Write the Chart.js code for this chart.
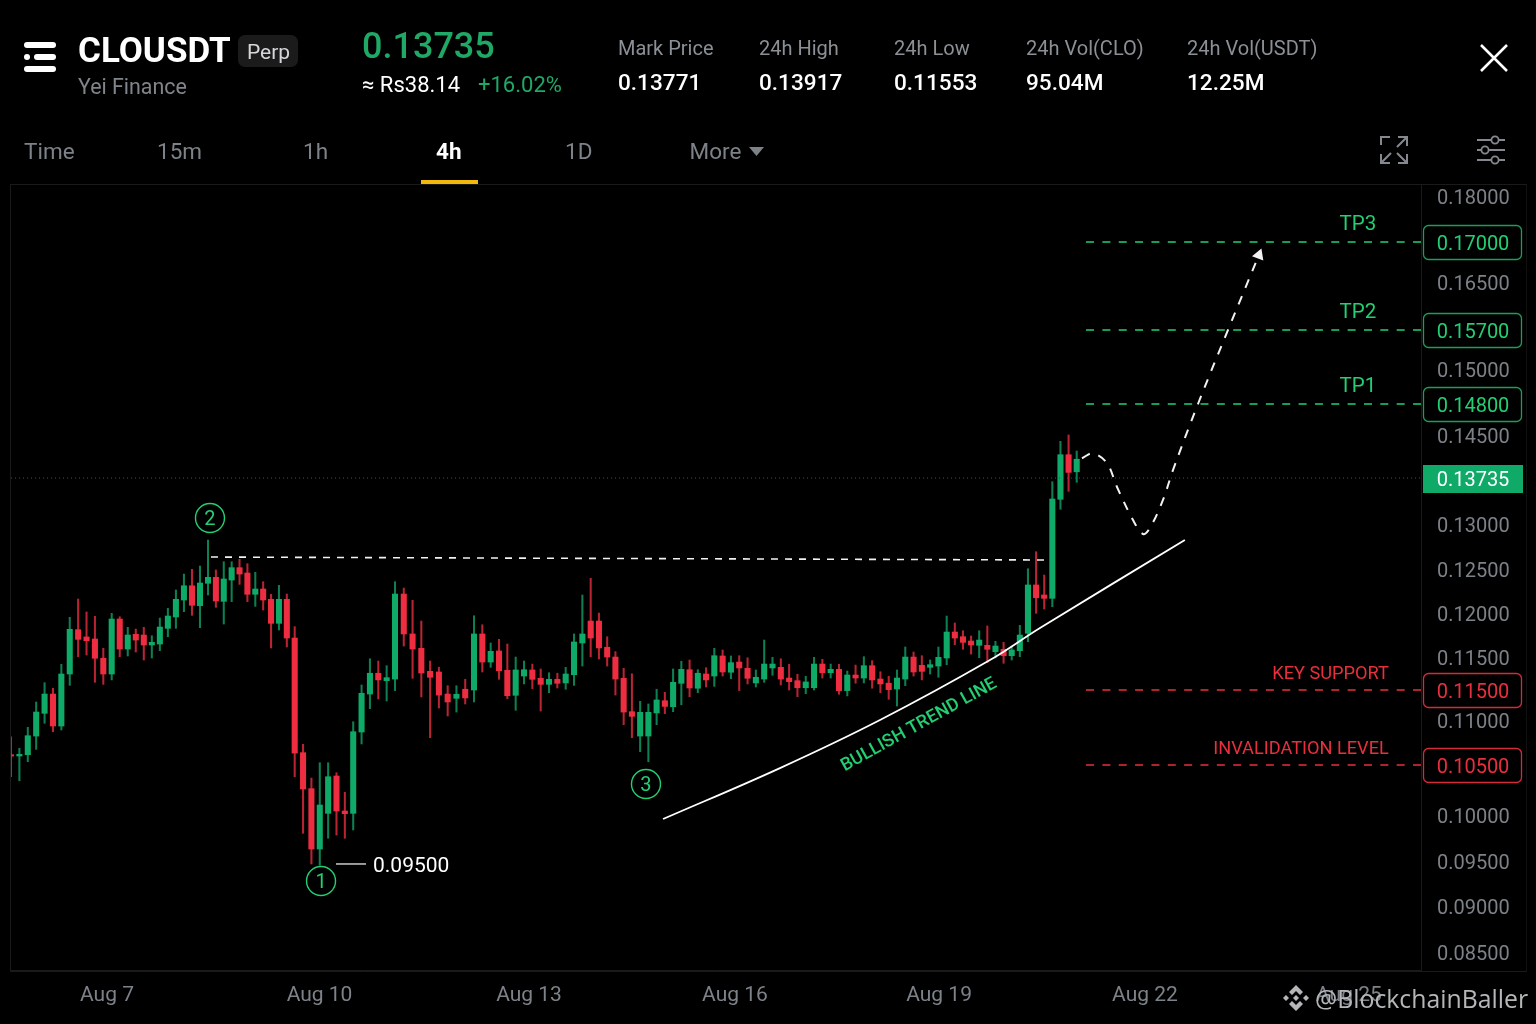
<!DOCTYPE html>
<html>
<head>
<meta charset="utf-8">
<title>CLOUSDT Perp</title>
<script src="https://cdn.jsdelivr.net/npm/chart.js@4/dist/chart.umd.min.js"></script>
<style>
html, body { margin: 0; padding: 0; background: #000; }
#page { position: relative; width: 1536px; height: 1024px; overflow: hidden; background: #000; font-family: Roboto, sans-serif; color: #fff; }
#page div.t, #page span.t { position: absolute; white-space: nowrap; line-height: 1; }
#frame { position: absolute; left: 10px; top: 184px; width: 1515px; height: 786px; border: 1px solid #1a1a1a; border-right-color: #111; }
#chartBox { position: absolute; left: 0; top: 0; width: 1536px; height: 1024px; }
.gray { color: #80858b; }
.stat { font-size: 20px; color: #8b9096; }
.val { font-size: 22.6px; font-weight: 500; color: #fff; }
.tab { font-size: 22.5px; color: #7d8288; }
svg { position: absolute; }
</style>
</head>
<body>
<div id="page">
  <div id="frame"></div>
  <div id="chartBox"><canvas id="priceChart"></canvas></div>

  <svg style="left:22px;top:40px" width="36" height="34" viewBox="0 0 36 34">
    <rect x="2" y="2" width="32" height="6" rx="3" fill="#fff"/>
    <rect x="2" y="14" width="6" height="6" rx="3" fill="#fff"/>
    <rect x="12" y="14" width="22" height="6" rx="3" fill="#fff"/>
    <rect x="2" y="26" width="32" height="6" rx="3" fill="#fff"/>
  </svg>
  <div class="t" style="left:78px;top:33px;font-size:35px;font-weight:700">CLOUSDT</div>
  <div style="position:absolute;left:238px;top:35px;width:60px;height:32px;background:#1b1b1b;border-radius:7px"></div>
  <div class="t" style="left:247px;top:42px;font-size:21px;color:#d5d7da">Perp</div>
  <div class="t gray" style="left:78px;top:76px;font-size:21.4px">Yei Finance</div>

  <div class="t" style="left:362px;top:28px;font-size:36px;font-weight:500;color:#1fa866">0.13735</div>
  <div class="t" style="left:362px;top:74px;font-size:22px">≈ Rs38.14</div>
  <div class="t" style="left:478px;top:74px;font-size:22px;color:#1fa866">+16.02%</div>

  <div class="t stat" style="left:618px;top:38px">Mark Price</div>
  <div class="t stat" style="left:759px;top:38px">24h High</div>
  <div class="t stat" style="left:894px;top:38px">24h Low</div>
  <div class="t stat" style="left:1026px;top:38px">24h Vol(CLO)</div>
  <div class="t stat" style="left:1187px;top:38px">24h Vol(USDT)</div>
  <div class="t val" style="left:618px;top:72px">0.13771</div>
  <div class="t val" style="left:759px;top:72px">0.13917</div>
  <div class="t val" style="left:894px;top:72px">0.11553</div>
  <div class="t val" style="left:1026px;top:72px">95.04M</div>
  <div class="t val" style="left:1187px;top:72px">12.25M</div>

  <svg style="left:1478px;top:42px" width="32" height="32" viewBox="0 0 32 32">
    <path d="M3 3 L29 29 M29 3 L3 29" stroke="#fff" stroke-width="2.6" fill="none"/>
  </svg>

  <div class="t tab" style="left:24px;top:140px">Time</div>
  <div class="t tab" style="left:157px;top:140px">15m</div>
  <div class="t tab" style="left:303px;top:140px">1h</div>
  <div class="t tab" style="left:436px;top:140px;color:#fff;font-weight:700">4h</div>
  <div class="t tab" style="left:565px;top:140px">1D</div>
  <div class="t tab" style="left:689.5px;top:140px">More</div>
  <svg style="left:749px;top:147px" width="15" height="9" viewBox="0 0 15 9"><path d="M0 0 H15 L7.5 9 Z" fill="#7d8288"/></svg>
  <div style="position:absolute;left:421px;top:180px;width:57px;height:4px;background:#f0b90b"></div>

  <svg style="left:1380px;top:136px" width="28" height="28" viewBox="0 0 28 28" fill="none" stroke="#85898f" stroke-width="2">
    <path d="M1 9 V1 H10 M27 1 L17 11 M18 1 H27 V10 M1 27 L11 17 M1 18 V27 H10 M27 18 V27 H18 M17 17 L27 27"/>
  </svg>
  <svg style="left:1476px;top:135px" width="30" height="30" viewBox="0 0 30 30" fill="none" stroke="#85898f" stroke-width="1.8">
    <path d="M1 5 H15 M23 5 H29 M1 15 H5 M13 15 H29 M1 25 H15 M23 25 H29"/>
    <circle cx="19" cy="5" r="3.6"/><circle cx="9" cy="15" r="3.6"/><circle cx="19" cy="25" r="3.6"/>
  </svg>

  <svg style="left:1282px;top:984px" width="28" height="28" viewBox="0 0 28 28" fill="#b4b6b9">
    <path d="M14 1 L21 8 L18 11 L14 7 L10 11 L7 8 Z"/>
    <path d="M14 27 L21 20 L18 17 L14 21 L10 17 L7 20 Z"/>
    <path d="M14 11 L17 14 L14 17 L11 14 Z"/>
    <path d="M4 11 L7 14 L4 17 L1 14 Z"/>
    <path d="M24 11 L27 14 L24 17 L21 14 Z"/>
  </svg>
  <div class="t" style="left:1315px;top:986px;font-size:24.8px;color:#b4b6b9;font-family:'Open Sans',sans-serif">@BlockchainBaller</div>
</div>

<script>
const opens = [0.10617,0.10602,0.10617,0.10829,0.11061,0.11214,0.10943,0.11373,0.11822,0.11739,
  0.11716,0.11498,0.11373,0.11943,0.11602,0.11769,0.11761,0.11648,0.11659,0.11837,
  0.11966,0.12159,0.12321,0.12094,0.12349,0.12417,0.12144,0.12386,0.12526,0.12466,
  0.12224,0.12284,0.12167,0.11894,0.12167,0.11727,0.1064,0.10268,0.09641,0.10026,
  0.10392,0.10049,0.10026,0.10875,0.11214,0.11379,0.1132,0.11333,0.12227,0.11773,
  0.1161,0.11394,0.11389,0.11214,0.1118,0.11252,0.11246,0.11773,0.11468,0.1158,
  0.11402,0.11204,0.11357,0.11405,0.11339,0.11291,0.11331,0.11302,0.11367,0.1167,
  0.1192,0.1192,0.11622,0.11511,0.11339,0.11074,0.10829,0.10829,0.11064,0.11161,
  0.11113,0.11299,0.11407,0.1126,0.11373,0.11357,0.11523,0.11387,0.11468,0.11418,
  0.11302,0.11333,0.11421,0.11426,0.11341,0.1132,0.11264,0.11264,0.11452,0.11383,
  0.1141,0.11241,0.11365,0.11341,0.11439,0.11333,0.113,0.11254,0.11333,0.11511,
  0.11442,0.11426,0.11436,0.115,0.11795,0.11742,0.11693,0.11644,0.11644,0.11572,
  0.11599,0.11526,0.11583,0.11781,0.1233,0.12216,0.12178,0.13402,0.14159,0.13848];
const closes = [0.10602,0.10622,0.10833,0.11071,0.11214,0.10943,0.11373,0.11826,0.11712,0.11697,
  0.11498,0.11373,0.11943,0.11602,0.11761,0.11704,0.11648,0.11678,0.11852,0.11977,
  0.12167,0.12321,0.12099,0.12352,0.12417,0.12148,0.12398,0.12526,0.12454,0.12224,
  0.12284,0.12159,0.11894,0.12167,0.11727,0.10636,0.10265,0.09641,0.10108,0.10385,
  0.10049,0.10023,0.10878,0.1122,0.11379,0.11326,0.11344,0.12227,0.11773,0.11602,
  0.11381,0.11347,0.11206,0.11151,0.11212,0.11183,0.11773,0.11468,0.11576,0.11399,
  0.11201,0.11405,0.11407,0.11331,0.11291,0.11331,0.11299,0.11373,0.11682,0.11773,
  0.11727,0.11614,0.11511,0.11333,0.11071,0.11037,0.11069,0.11069,0.11167,0.11116,
  0.11307,0.1141,0.11262,0.11379,0.11326,0.11526,0.11389,0.11463,0.11421,0.11339,
  0.11347,0.11452,0.11452,0.11333,0.11312,0.11264,0.1131,0.11452,0.11383,0.1141,
  0.11241,0.11365,0.11341,0.11439,0.11326,0.11294,0.11249,0.11341,0.11511,0.11389,
  0.11394,0.11447,0.11508,0.11795,0.11727,0.11678,0.11648,0.11704,0.11599,0.11636,
  0.11526,0.11591,0.11761,0.1233,0.12185,0.12178,0.13407,0.14159,0.13837,0.14077];
const highs = [0.10821,0.1069,0.10928,0.11151,0.11304,0.1126,0.1145,0.11962,0.1217,0.12023,
  0.11974,0.1161,0.12008,0.11969,0.11849,0.11829,0.11849,0.11753,0.11954,0.12065,
  0.12273,0.12454,0.12508,0.12544,0.12833,0.125,0.12592,0.12592,0.12619,0.1257,
  0.12474,0.12367,0.12224,0.12326,0.12227,0.11856,0.10735,0.10372,0.10526,0.10526,
  0.10424,0.10232,0.10992,0.11286,0.11494,0.11476,0.11439,0.12367,0.12295,0.12156,
  0.1192,0.11476,0.11427,0.1128,0.1128,0.11331,0.1198,0.11878,0.1167,0.11712,
  0.11659,0.11511,0.11476,0.11452,0.11413,0.11383,0.11379,0.11426,0.11773,0.12216,
  0.12406,0.12011,0.11742,0.11572,0.11418,0.11375,0.11156,0.11135,0.11252,0.11228,
  0.11413,0.11474,0.11484,0.11407,0.11423,0.1161,0.11591,0.11523,0.11526,0.11503,
  0.11405,0.11704,0.11508,0.11494,0.1145,0.11371,0.11355,0.11508,0.1149,0.11452,
  0.1145,0.11397,0.11444,0.11515,0.11479,0.11391,0.11355,0.11405,0.11625,0.11568,
  0.11526,0.11484,0.11625,0.11977,0.11898,0.1181,0.1175,0.1181,0.11864,0.1169,
  0.11678,0.11636,0.11871,0.12514,0.12703,0.12443,0.13677,0.14403,0.1451,0.14226];
const lows = [0.10385,0.10346,0.10537,0.10678,0.10974,0.10878,0.10898,0.11283,0.11515,0.11534,
  0.11307,0.11291,0.11326,0.11515,0.11523,0.11568,0.11484,0.115,0.11583,0.11742,
  0.11837,0.12026,0.11985,0.11844,0.12216,0.12076,0.11886,0.1214,0.12337,0.1214,
  0.12087,0.12045,0.11614,0.11818,0.11625,0.10385,0.09812,0.09478,0.09463,0.09758,
  0.09793,0.09758,0.09848,0.10739,0.11098,0.11175,0.11159,0.11241,0.11636,0.11339,
  0.11191,0.1081,0.11103,0.1104,0.11071,0.11135,0.11151,0.11389,0.11426,0.11331,
  0.11177,0.11085,0.11294,0.11257,0.11079,0.11225,0.11262,0.11252,0.11283,0.11436,
  0.11515,0.11492,0.11436,0.11206,0.10958,0.1081,0.10651,0.10537,0.10958,0.11058,
  0.11074,0.11129,0.11193,0.11225,0.1127,0.11275,0.11357,0.11336,0.11241,0.11294,
  0.1127,0.11307,0.11363,0.11286,0.11246,0.11193,0.11217,0.11246,0.11341,0.11341,
  0.11212,0.11199,0.113,0.11302,0.1126,0.11225,0.11172,0.11119,0.1128,0.11357,
  0.11326,0.11373,0.11347,0.11447,0.11651,0.11599,0.11545,0.11503,0.11463,0.115,
  0.11458,0.11484,0.11515,0.11685,0.12008,0.12057,0.12083,0.13246,0.13527,0.13668];

const priceTicks = [0.085,0.09,0.095,0.1,0.11,0.115,0.12,0.125,0.13,0.145,0.15,0.165,0.18];
const dateTicks = [11.44,37.97,62.6,87.49,112.08,137.27,161.97];
const dateLabels = ['Aug 7','Aug 10','Aug 13','Aug 16','Aug 19','Aug 22','Aug 25'];

const levelPrices = [0.17,0.157,0.148,0.11246,0.105];
const levelTags = ['0.17000','0.15700','0.14800','0.11500','0.10500'];
const levelNames = ['TP3','TP2','TP1','KEY SUPPORT','INVALIDATION LEVEL'];
const lastPrice = 0.13735;

const resistanceSlots = [24.38,125.7];
const resistancePrices = [0.12644,0.12611];
const trendSlots = [78.78,92.9,104.95,118.33,124.48,142.1];
const trendPrices = [0.09967,0.1047,0.11008,0.11484,0.11841,0.12833];
const pathSlots = [129.64,130.97,132.67,133.88,135.82,137.03,137.87,139.45,140.66,143.69,147.32,151.07];
const pathPrices = [0.14095,0.14185,0.14005,0.13594,0.13078,0.129,0.12967,0.13391,0.13879,0.148,0.157,0.16841];
const markerSlots = [38.15,24.25,76.71];
const markerPrices = [0.09289,0.1311,0.10314];
const markerLabels = ['1','2','3'];

// the printed price axis is not evenly spaced, so the scale follows it piece by piece
const yKnotValues = [0.0831,0.085,0.09,0.095,0.1,0.105,0.11,0.115,0.12,0.125,0.13,0.13735,0.145,0.148,0.15,0.157,0.165,0.17,0.18,0.1827];
const yKnotPixels = [970,953,907,862,816,765,721,658,614,570,525,478,436,404,370,330,283,242,197,185];
const xKnotValues = [0,12,24,35,47,56,70,85,100,113,129,170.7];
const xKnotPixels = [11,111.7,208,294.7,395,474,590.7,714.3,839,946.7,1076.7,1421];

const GREEN = '#0fa968';
const GREEN_WICK = '#0c8052';
const RED = '#ee2e40';
const RED_WICK = '#b82432';
const LINE_GREEN = '#22cf72';
const LINE_RED = '#e92f3e';
const WHITE = '#f2f2f2';

function interpolate(v, from, to) {
    let i = 1;
    while (i < from.length - 1 && (from[0] < from[from.length - 1] ? v > from[i] : v < from[i])) i++;
    return to[i - 1] + (v - from[i - 1]) * (to[i] - to[i - 1]) / (from[i] - from[i - 1]);
}

class KnotScale extends Chart.LinearScale {
    static id = 'knot';
    static defaults = {};
    getPixelForValue(value) {
        if (value === null || value === undefined) return NaN;
        return this.axis === 'x'
            ? interpolate(value, xKnotValues, xKnotPixels)
            : interpolate(value, yKnotValues, yKnotPixels);
    }
    getValueForPixel(pixel) {
        return this.axis === 'x'
            ? interpolate(pixel, xKnotPixels, xKnotValues)
            : interpolate(pixel, yKnotPixels, yKnotValues);
    }
}
Chart.register(KnotScale);

const isUp = opens.map((o, i) => closes[i] >= o);

function lineSet(slots, prices, color, width, dash) {
    return {
        type: 'line',
        data: slots.map((x, i) => ({ x: x, y: prices[i] })),
        borderColor: color,
        borderWidth: width,
        borderDash: dash,
        pointRadius: 0,
        fill: false,
        order: 1
    };
}

const levelSets = levelPrices.map((p, i) =>
    lineSet([130.13, 170.7], [p, p], i < 3 ? LINE_GREEN : LINE_RED, 1.6, [8, 8.35]));

const trendSet = lineSet(trendSlots, trendPrices, '#ffffff', 1.8, []);
trendSet.tension = 0.4;

const pathSet = lineSet(pathSlots, pathPrices, WHITE, 2, [9, 9]);
pathSet.tension = 0.35;
pathSet.pointStyle = 'triangle';
pathSet.pointRotation = 21;
pathSet.pointRadius = pathSlots.map((s, i) => i === pathSlots.length - 1 ? 5 : 0);
pathSet.pointBackgroundColor = WHITE;
pathSet.pointBorderColor = WHITE;

const datasets = [
    {
        label: 'wicks',
        data: lows.map((l, i) => ({ x: i, y: [l, highs[i]] })),
        backgroundColor: isUp.map(u => u ? GREEN_WICK : RED_WICK),
        barThickness: 1.4,
        grouped: false,
        order: 3
    },
    {
        label: 'bodies',
        data: opens.map((o, i) => ({ x: i, y: [o, closes[i]] })),
        backgroundColor: isUp.map(u => u ? GREEN : RED),
        barThickness: 5.4,
        grouped: false,
        order: 2
    },
    lineSet([0, 170.7], [lastPrice, lastPrice], '#0f6b45', 1, [1, 3]),
    lineSet(resistanceSlots, resistancePrices, WHITE, 1.6, [7, 7]),
    trendSet,
    lineSet([39.94, 43.53], [0.09478, 0.09478], '#d8d8d8', 1.4, []),
    pathSet
].concat(levelSets);

const overlay = {
    id: 'overlay',
    afterDatasetsDraw(chart) {
        const ctx = chart.ctx;
        const xs = chart.scales.x;
        const ys = chart.scales.y;
        ctx.save();
        ctx.textBaseline = 'middle';

        // level tags on the axis and their names
        levelPrices.forEach((p, i) => {
            const row = ys.getPixelForValue(p);
            const color = i < 3 ? LINE_GREEN : LINE_RED;
            ctx.beginPath();
            ctx.roundRect(1423.5, row - 16.5, 98, 34, 5);
            ctx.fillStyle = '#000';
            ctx.fill();
            ctx.strokeStyle = i < 3 ? '#1d9c5c' : '#d22c3a';
            ctx.lineWidth = 1.3;
            ctx.stroke();
            ctx.fillStyle = color;
            ctx.font = '20px Roboto';
            ctx.textAlign = 'center';
            ctx.fillText(levelTags[i], 1473, row + 3);
            if (i < 3) {
                ctx.font = '20.5px Roboto';
                ctx.fillText(levelNames[i], xs.getPixelForValue(163.06), row - 17);
            } else {
                ctx.font = '18.2px Roboto';
                ctx.textAlign = 'right';
                ctx.fillText(levelNames[i], xs.getPixelForValue(166.8), row - 16);
            }
        });

        // last price tag
        const lastRow = ys.getPixelForValue(lastPrice);
        ctx.fillStyle = GREEN;
        ctx.fillRect(1423, lastRow - 13, 100, 28);
        ctx.fillStyle = '#fff';
        ctx.font = '20px Roboto';
        ctx.textAlign = 'center';
        ctx.fillText('0.13735', 1473, lastRow + 3);

        // circled wave numbers
        markerSlots.forEach((s, i) => {
            const x = xs.getPixelForValue(s);
            const y = ys.getPixelForValue(markerPrices[i]);
            ctx.beginPath();
            ctx.arc(x, y, 14.5, 0, Math.PI * 2);
            ctx.strokeStyle = LINE_GREEN;
            ctx.lineWidth = 1.4;
            ctx.stroke();
            ctx.fillStyle = LINE_GREEN;
            ctx.font = '20px Roboto';
            ctx.fillText(markerLabels[i], x, y + 2);
        });

        // low callout
        ctx.fillStyle = '#fff';
        ctx.font = '21px Roboto';
        ctx.textAlign = 'left';
        ctx.fillText('0.09500', 373, ys.getPixelForValue(0.09478) + 3);

        // trend line caption
        ctx.translate(xs.getPixelForValue(109.66), ys.getPixelForValue(0.10954));
        ctx.rotate(-29 * Math.PI / 180);
        ctx.fillStyle = LINE_GREEN;
        ctx.font = '500 18px Roboto';
        ctx.textAlign = 'center';
        ctx.fillText('BULLISH TREND LINE', 0, 0);
        ctx.restore();
    }
};

new Chart(document.getElementById('priceChart'), {
    type: 'bar',
    data: { datasets: datasets },
    plugins: [overlay],
    options: {
        animation: false,
        responsive: true,
        maintainAspectRatio: false,
        devicePixelRatio: 1,
        layout: { padding: { left: 11, top: 185, right: 14, bottom: 0 } },
        plugins: { legend: { display: false }, tooltip: { enabled: false } },
        scales: {
            x: {
                type: 'knot',
                min: 0,
                max: 170.7,
                offset: false,
                grid: { display: false, drawTicks: false },
                border: { display: true, color: '#1a1a1a' },
                afterBuildTicks: axis => { axis.ticks = dateTicks.map(v => ({ value: v })); },
                afterFit: axis => { axis.height = 54; },
                ticks: {
                    autoSkip: false,
                    maxRotation: 0,
                    padding: 13,
                    color: '#7d8288',
                    font: { family: 'Roboto', size: 21 },
                    callback: (v, i) => dateLabels[i]
                }
            },
            y: {
                type: 'knot',
                position: 'right',
                min: 0.0831,
                max: 0.1827,
                grid: { display: false, drawTicks: false },
                border: { display: true, color: '#1a1a1a' },
                afterBuildTicks: axis => { axis.ticks = priceTicks.map(v => ({ value: v })); },
                afterFit: axis => { axis.width = 101; },
                ticks: {
                    autoSkip: false,
                    padding: 16,
                    labelOffset: 2,
                    color: '#7d8288',
                    font: { family: 'Roboto', size: 20 },
                    callback: v => v.toFixed(5)
                }
            }
        }
    }
});
</script>
</body>
</html>
